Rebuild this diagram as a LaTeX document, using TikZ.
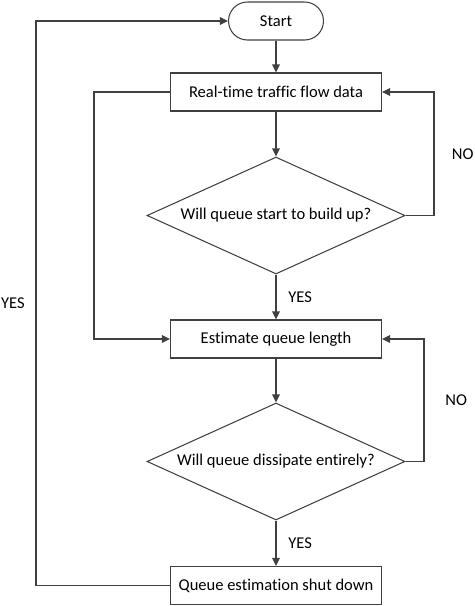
\documentclass[tikz,border=0pt]{standalone}
\usepackage{fontspec}
\setmainfont{Carlito}[Ligatures=NoCommon]
\usetikzlibrary{shapes.geometric,arrows.meta}

\begin{document}
\begin{tikzpicture}[x=0.02cm, y=-0.02cm, font=\fontsize{9.4}{11}\selectfont,
         line/.style={draw=black!75, line width=0.6pt},
         arr/.style={line, -{Triangle[length=1.6mm, width=1.5mm]}},
         proc/.style={line, rectangle, minimum width=4.22cm, minimum height=0.76cm, inner sep=0pt},
         term/.style={line, rectangle, rounded corners=0.38cm, minimum width=1.9cm, minimum height=0.76cm},
         decide/.style={line, diamond, aspect=2.2, minimum width=5.16cm, minimum height=2.34cm, inner sep=0pt}]
         \useasboundingbox (0, 0) rectangle (474, 606);
         \node [term] (start) at (276, 21) {Start};
         \node [proc] (data) at (276, 92) {Real-time traffic flow data};
         \node [decide] (build) at (276, 215.5) {Will queue start to build up?};
         \node [proc] (estimate) at (276, 339) {Estimate queue length};
         \node [decide] (dissipate) at (276, 461.5) {Will queue dissipate entirely?};
         \node [proc] (shutdown) at (276, 585.5) {Queue estimation shut down};
         \coordinate (nobuild) at (434, 92);
         \coordinate (nodissipate) at (424, 339);
         \coordinate (skip) at (94, 339);
         \coordinate (restart) at (36, 21);
         \draw [arr] (start) -- (data);
         \draw [arr] (data) -- (build);
         \draw [arr] (build) -- node [right, xshift=1.2mm] {YES} (estimate);
         \draw [arr] (estimate) -- (dissipate);
         \draw [arr] (dissipate) -- node [right, xshift=1.2mm] {YES} (shutdown);
         \draw [arr] (build.east) -| node [pos=0.75, right, xshift=2.3mm] {NO} (nobuild) -- (data.east);
         \draw [arr] (dissipate.east) -| node [pos=0.75, right, xshift=3mm] {NO} (nodissipate) -- (estimate.east);
         \draw [arr] (data.west) -| (skip) -- (estimate.west);
         \draw [arr] (shutdown.west) -| node [pos=0.75, left, xshift=-1mm] {YES} (restart) -- (start.west);
        \end{tikzpicture}
\end{document}
